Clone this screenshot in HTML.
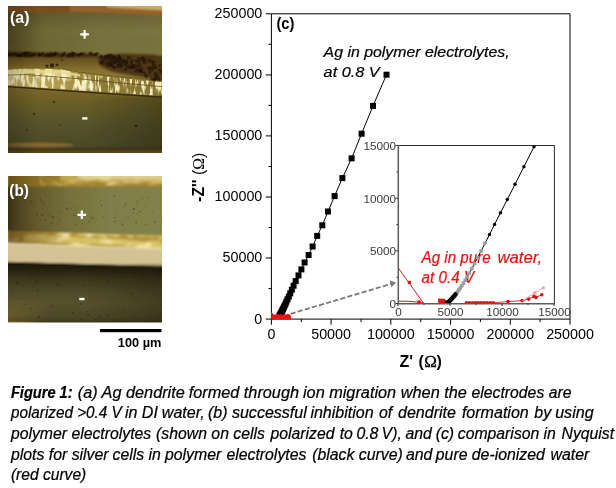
<!DOCTYPE html>
<html><head><meta charset="utf-8"><title>Figure 1</title>
<style>
html,body{margin:0;padding:0;background:#fff;}
body{width:616px;height:488px;overflow:hidden;}
svg{display:block;}
text{font-family:"Liberation Sans",sans-serif;}
.tk{font-size:14.3px;fill:#000;}
.itk{font-size:11.7px;fill:#3a3a3a;}
.cap{font-size:16px;font-style:italic;fill:#000;stroke:#000;stroke-width:0.22px;}
</style></head><body>
<svg width="616" height="488" viewBox="0 0 616 488">
<defs>
<clipPath id="ca"><rect x="8" y="6" width="154" height="147"/></clipPath>
<clipPath id="cb"><rect x="8" y="176" width="154" height="146.4"/></clipPath>
<clipPath id="ci"><rect x="398" y="145.5" width="156" height="158"/></clipPath>
<linearGradient id="ga1" x1="0" x2="1" y1="0" y2="0"><stop offset="0" stop-color="#584c22"/><stop offset="0.25" stop-color="#6e6836"/><stop offset="0.6" stop-color="#77733f"/><stop offset="1" stop-color="#7a7642"/></linearGradient>
<linearGradient id="ga1v" x1="0" x2="0" y1="0" y2="1"><stop offset="0.15" stop-color="#3a3010" stop-opacity="0.3"/><stop offset="0.5" stop-color="#3a3010" stop-opacity="0"/><stop offset="1" stop-color="#a08a40" stop-opacity="0.25"/></linearGradient>
<linearGradient id="gtan" gradientUnits="userSpaceOnUse" x1="0" x2="0" y1="56" y2="72"><stop offset="0" stop-color="#5e4a1e"/><stop offset="0.5" stop-color="#746026"/><stop offset="1" stop-color="#8c7632"/></linearGradient>
<linearGradient id="gband" gradientUnits="userSpaceOnUse" x1="8" x2="162" y1="0" y2="0"><stop offset="0" stop-color="#c4b060"/><stop offset="0.35" stop-color="#b09a4c"/><stop offset="0.6" stop-color="#8e7c38"/><stop offset="1" stop-color="#86742f"/></linearGradient>
<linearGradient id="ga2" x1="0" x2="0" y1="0" y2="1"><stop offset="0" stop-color="#826c2a"/><stop offset="0.25" stop-color="#6a5e28"/><stop offset="0.5" stop-color="#58542a"/><stop offset="0.8" stop-color="#4c4a28"/><stop offset="1" stop-color="#40381c"/></linearGradient>
<linearGradient id="gb1" x1="0" x2="1" y1="0" y2="0"><stop offset="0" stop-color="#2e2810"/><stop offset="0.07" stop-color="#483e1e"/><stop offset="0.2" stop-color="#645a2c"/><stop offset="0.4" stop-color="#76713c"/><stop offset="0.65" stop-color="#807e48"/><stop offset="1" stop-color="#84824c"/></linearGradient>
<linearGradient id="gb2" x1="0" x2="0" y1="0" y2="1"><stop offset="0" stop-color="#1a1608"/><stop offset="0.1" stop-color="#241f0d"/><stop offset="0.25" stop-color="#3c361c"/><stop offset="0.45" stop-color="#504a2a"/><stop offset="0.6" stop-color="#58522e"/><stop offset="0.8" stop-color="#4c4727"/><stop offset="0.93" stop-color="#3a341c"/><stop offset="1" stop-color="#201c0b"/></linearGradient>
<linearGradient id="gbl" x1="0" x2="1" y1="0" y2="0"><stop offset="0" stop-color="#000" stop-opacity="0.45"/><stop offset="0.2" stop-color="#000" stop-opacity="0"/></linearGradient>
<linearGradient id="gdr" x1="0" x2="1" y1="0" y2="0"><stop offset="0.5" stop-color="#141004" stop-opacity="0"/><stop offset="1" stop-color="#141004" stop-opacity="0.32"/></linearGradient>
<radialGradient id="gglow"><stop offset="0" stop-color="#8a7838" stop-opacity="0.4"/><stop offset="1" stop-color="#9a8030" stop-opacity="0"/></radialGradient>
<linearGradient id="gleft" x1="0" x2="1" y1="0" y2="0"><stop offset="0" stop-color="#4a3410" stop-opacity="0.7"/><stop offset="0.16" stop-color="#5a4012" stop-opacity="0.4"/><stop offset="0.4" stop-color="#5a4012" stop-opacity="0"/></linearGradient>
<filter id="mot" x="0" y="0" width="100%" height="100%"><feTurbulence type="fractalNoise" baseFrequency="0.07 0.16" numOctaves="2" seed="5" result="n"/><feColorMatrix in="n" type="matrix" values="0 0 0 0 0.9  0 0 0 0 0.78  0 0 0 0 0.38  3.4 0 0 0 -1.55"/><feComposite in2="SourceGraphic" operator="in"/><feGaussianBlur stdDeviation="0.6"/></filter>
<filter id="dend2" x="0" y="0" width="100%" height="100%"><feTurbulence type="fractalNoise" baseFrequency="0.3 0.075" numOctaves="2" seed="11" result="n"/><feColorMatrix in="n" type="matrix" values="0 0 0 0 0.92  0 0 0 0 0.84  0 0 0 0 0.5  6 0 0 0 -2.95"/><feComposite in2="SourceGraphic" operator="in"/></filter>
<filter id="dend" x="0" y="0" width="100%" height="100%"><feTurbulence type="fractalNoise" baseFrequency="0.24 0.075" numOctaves="2" seed="7" result="n"/><feColorMatrix in="n" type="matrix" values="0 0 0 0 0.94  0 0 0 0 0.87  0 0 0 0 0.56  5.2 0 0 0 -2.2"/><feComposite in2="SourceGraphic" operator="in"/></filter>
<filter id="bl0" x="-5%" y="-5%" width="110%" height="110%"><feGaussianBlur stdDeviation="0.45"/></filter>
<filter id="bl1" x="-5%" y="-5%" width="110%" height="110%"><feGaussianBlur stdDeviation="0.8"/></filter>
<filter id="bl2" x="-5%" y="-5%" width="110%" height="110%"><feGaussianBlur stdDeviation="1.6"/></filter>
</defs>
<rect width="616" height="488" fill="#fff"/>

<g clip-path="url(#ca)"><g filter="url(#bl1)">
<rect x="4" y="2" width="162" height="155" fill="url(#ga1)"/>
<rect x="4" y="2" width="162" height="60" fill="url(#ga1v)"/>
<rect x="4" y="2" width="162" height="10" fill="#7c4e1a"/>
<polygon points="70,2 166,2 166,16 120,13 70,11.5" fill="#96622a"/>
<polygon points="107,2 166,2 166,10.5 130,8.6 107,7" fill="#c6ae66"/>
<polygon points="4,54 100,55 166,60 166,84 110,78 80,74 25,68 4,70" fill="url(#gtan)"/>
<polygon points="4,51.5 40,52 95,53.5 100,57 60,57.5 4,56.5" fill="#3e2c14"/>
<polygon points="97,58 108,54 125,53.5 150,54 166,56 166,80 140,77 112,72 100,66" fill="#4e3618"/>
<polygon points="4,84 80,90 166,96 166,160 4,160" fill="url(#ga2)"/>
<rect x="4" y="96" width="162" height="64" fill="url(#gdr)"/>
<ellipse cx="40" cy="145" rx="34" ry="2.2" fill="#b0803a" opacity="0.6"/>
<rect x="4" y="148.5" width="162" height="1.6" fill="#2a200c" opacity="0.7"/>
<rect x="4" y="150" width="162" height="5" fill="#5c4818" opacity="0.8"/>
<polygon points="4,69.5 25,68.3 60,68.8 80,73 110,76.5 166,81.5 166,96.5 110,93 80,91 4,85.5" fill="url(#gband)"/>
</g>
<polygon filter="url(#dend)" points="8,70 25,68.8 60,69.3 80,73.5 95,75.3 95,91.5 80,90.5 8,85" fill="#fff"/>
<polygon filter="url(#dend2)" points="95,75.3 110,77 162,82 162,96 110,92.5 95,91.5" fill="#fff"/>
<g filter="url(#bl0)">
<polygon points="8,70.5 25,69.5 60,70 80,74.5 80,76.5 60,73.6 25,73.2 8,74.2" fill="#e8da92" opacity="0.85"/>
<polyline points="4,75.3 25,74.5 80,78.8 110,82 166,87" fill="none" stroke="#5a4618" stroke-width="1" opacity="0.7"/>
<polyline points="4,86.3 80,91.8 110,93.8 166,97.3" fill="none" stroke="#3a2c10" stroke-width="1.5"/>
<polyline points="4,68.8 25,67.6 60,68.1 80,72.3 110,75.8 166,80.8" fill="none" stroke="#4a3814" stroke-width="0.9" opacity="0.45"/>
<circle cx="114.8" cy="62.4" r="1.5" fill="#22140a" opacity="0.6"/>
<circle cx="137.4" cy="66.5" r="1.0" fill="#22140a" opacity="0.6"/>
<circle cx="100.8" cy="63.4" r="1.3" fill="#22140a" opacity="0.6"/>
<circle cx="114.5" cy="67.7" r="1.6" fill="#22140a" opacity="0.6"/>
<circle cx="151.9" cy="69.4" r="1.9" fill="#22140a" opacity="0.6"/>
<circle cx="109.3" cy="62.8" r="2.2" fill="#22140a" opacity="0.6"/>
<circle cx="132.4" cy="67.6" r="1.9" fill="#22140a" opacity="0.6"/>
<circle cx="104.0" cy="63.2" r="1.8" fill="#22140a" opacity="0.6"/>
<circle cx="118.7" cy="56.4" r="2.2" fill="#22140a" opacity="0.6"/>
<circle cx="129.3" cy="66.8" r="2.2" fill="#22140a" opacity="0.6"/>
<circle cx="144.3" cy="72.7" r="1.5" fill="#22140a" opacity="0.6"/>
<circle cx="149.7" cy="68.6" r="2.3" fill="#22140a" opacity="0.6"/>
<circle cx="154.5" cy="62.0" r="1.1" fill="#22140a" opacity="0.6"/>
<circle cx="113.5" cy="67.1" r="1.6" fill="#22140a" opacity="0.6"/>
<circle cx="138.9" cy="61.1" r="1.7" fill="#22140a" opacity="0.6"/>
<circle cx="123.9" cy="60.8" r="1.8" fill="#22140a" opacity="0.6"/>
<circle cx="136.2" cy="70.9" r="1.9" fill="#22140a" opacity="0.6"/>
<circle cx="157.6" cy="78.0" r="2.4" fill="#22140a" opacity="0.6"/>
<circle cx="141.6" cy="58.9" r="2.2" fill="#22140a" opacity="0.6"/>
<circle cx="159.8" cy="79.5" r="1.8" fill="#22140a" opacity="0.6"/>
<circle cx="144.3" cy="59.8" r="2.1" fill="#22140a" opacity="0.6"/>
<circle cx="135.6" cy="60.6" r="1.0" fill="#22140a" opacity="0.6"/>
<circle cx="152.9" cy="79.8" r="1.0" fill="#22140a" opacity="0.6"/>
<circle cx="149.6" cy="67.9" r="1.1" fill="#22140a" opacity="0.6"/>
<circle cx="118.2" cy="65.7" r="2.2" fill="#22140a" opacity="0.6"/>
<circle cx="102.7" cy="61.7" r="1.0" fill="#22140a" opacity="0.6"/>
<circle cx="144.5" cy="62.0" r="2.2" fill="#22140a" opacity="0.6"/>
<circle cx="160.8" cy="71.0" r="2.4" fill="#22140a" opacity="0.6"/>
<circle cx="119.2" cy="57.0" r="1.8" fill="#22140a" opacity="0.6"/>
<circle cx="101.9" cy="57.8" r="1.5" fill="#22140a" opacity="0.6"/>
<circle cx="137.8" cy="58.6" r="1.0" fill="#22140a" opacity="0.6"/>
<circle cx="153.8" cy="66.4" r="2.3" fill="#22140a" opacity="0.6"/>
<circle cx="155.6" cy="67.8" r="1.6" fill="#22140a" opacity="0.6"/>
<circle cx="132.2" cy="66.0" r="1.8" fill="#22140a" opacity="0.6"/>
<circle cx="134.7" cy="66.0" r="2.3" fill="#22140a" opacity="0.6"/>
<circle cx="131.4" cy="62.6" r="2.0" fill="#22140a" opacity="0.6"/>
<circle cx="114.7" cy="59.6" r="2.4" fill="#22140a" opacity="0.6"/>
<circle cx="132.3" cy="64.6" r="0.9" fill="#22140a" opacity="0.6"/>
<circle cx="125.7" cy="64.2" r="0.9" fill="#22140a" opacity="0.6"/>
<circle cx="138.2" cy="66.7" r="1.0" fill="#22140a" opacity="0.6"/>
<circle cx="138.9" cy="63.9" r="1.9" fill="#22140a" opacity="0.6"/>
<circle cx="121.9" cy="65.4" r="2.0" fill="#22140a" opacity="0.6"/>
<circle cx="101.4" cy="56.5" r="1.9" fill="#22140a" opacity="0.6"/>
<circle cx="159.7" cy="65.4" r="1.6" fill="#22140a" opacity="0.6"/>
<circle cx="136.7" cy="61.3" r="1.4" fill="#22140a" opacity="0.6"/>
<circle cx="119.4" cy="60.7" r="1.8" fill="#22140a" opacity="0.6"/>
<circle cx="118.6" cy="60.8" r="2.1" fill="#22140a" opacity="0.6"/>
<circle cx="101.7" cy="61.1" r="2.0" fill="#22140a" opacity="0.6"/>
<circle cx="119.2" cy="58.8" r="2.1" fill="#22140a" opacity="0.6"/>
<circle cx="114.8" cy="58.2" r="1.6" fill="#22140a" opacity="0.6"/>
<circle cx="143.3" cy="57.8" r="1.4" fill="#22140a" opacity="0.6"/>
<circle cx="120.7" cy="66.9" r="1.6" fill="#22140a" opacity="0.6"/>
<circle cx="153.0" cy="63.4" r="1.4" fill="#22140a" opacity="0.6"/>
<circle cx="140.3" cy="71.3" r="1.6" fill="#22140a" opacity="0.6"/>
<circle cx="114.0" cy="57.4" r="1.7" fill="#22140a" opacity="0.6"/>
<circle cx="111.8" cy="65.0" r="2.2" fill="#22140a" opacity="0.6"/>
<circle cx="111.4" cy="59.1" r="2.1" fill="#22140a" opacity="0.6"/>
<circle cx="139.8" cy="69.9" r="1.4" fill="#22140a" opacity="0.6"/>
<circle cx="108.0" cy="59.0" r="2.1" fill="#22140a" opacity="0.6"/>
<circle cx="116.8" cy="60.2" r="1.5" fill="#22140a" opacity="0.6"/>
<circle cx="126.0" cy="61.8" r="2.3" fill="#22140a" opacity="0.6"/>
<circle cx="109.7" cy="56.1" r="2.3" fill="#22140a" opacity="0.6"/>
<circle cx="154.6" cy="80.1" r="1.6" fill="#22140a" opacity="0.6"/>
<circle cx="158.9" cy="79.8" r="1.2" fill="#22140a" opacity="0.6"/>
<circle cx="146.2" cy="75.6" r="1.9" fill="#22140a" opacity="0.6"/>
<circle cx="132.2" cy="60.5" r="1.4" fill="#22140a" opacity="0.6"/>
<circle cx="114.1" cy="56.8" r="1.8" fill="#22140a" opacity="0.6"/>
<circle cx="117.8" cy="66.1" r="1.0" fill="#22140a" opacity="0.6"/>
<circle cx="156.0" cy="74.4" r="2.3" fill="#22140a" opacity="0.6"/>
<circle cx="155.6" cy="78.6" r="1.8" fill="#22140a" opacity="0.6"/>
<circle cx="100.8" cy="62.6" r="1.2" fill="#22140a" opacity="0.6"/>
<circle cx="118.6" cy="64.4" r="1.7" fill="#22140a" opacity="0.6"/>
<circle cx="125.7" cy="69.3" r="1.8" fill="#22140a" opacity="0.6"/>
<circle cx="121.2" cy="59.3" r="2.2" fill="#22140a" opacity="0.6"/>
<circle cx="129.6" cy="67.7" r="1.4" fill="#22140a" opacity="0.6"/>
<circle cx="112.2" cy="62.0" r="2.1" fill="#22140a" opacity="0.6"/>
<circle cx="110.6" cy="64.7" r="2.3" fill="#22140a" opacity="0.6"/>
<circle cx="150.0" cy="76.0" r="0.9" fill="#22140a" opacity="0.6"/>
<circle cx="139.0" cy="70.7" r="1.0" fill="#22140a" opacity="0.6"/>
<circle cx="116.8" cy="59.3" r="1.7" fill="#22140a" opacity="0.6"/>
<circle cx="126.2" cy="62.8" r="2.1" fill="#22140a" opacity="0.6"/>
<circle cx="100.1" cy="56.5" r="1.1" fill="#22140a" opacity="0.6"/>
<circle cx="107.7" cy="56.7" r="2.4" fill="#22140a" opacity="0.6"/>
<circle cx="153.0" cy="61.7" r="1.7" fill="#22140a" opacity="0.6"/>
<circle cx="119.6" cy="60.0" r="1.4" fill="#22140a" opacity="0.6"/>
<circle cx="140.1" cy="66.1" r="1.4" fill="#22140a" opacity="0.6"/>
<circle cx="111.8" cy="59.7" r="1.1" fill="#22140a" opacity="0.6"/>
<circle cx="134.4" cy="67.5" r="1.5" fill="#22140a" opacity="0.6"/>
<circle cx="105.0" cy="57.7" r="1.5" fill="#22140a" opacity="0.6"/>
<circle cx="137.5" cy="69.1" r="1.5" fill="#22140a" opacity="0.6"/>
<circle cx="149.7" cy="72.1" r="1.5" fill="#22140a" opacity="0.6"/>
<circle cx="123.1" cy="62.8" r="2.0" fill="#22140a" opacity="0.6"/>
<circle cx="126.1" cy="65.9" r="1.6" fill="#22140a" opacity="0.6"/>
<circle cx="115.2" cy="62.4" r="1.9" fill="#22140a" opacity="0.6"/>
<circle cx="104.4" cy="60.1" r="1.5" fill="#22140a" opacity="0.6"/>
<circle cx="154.5" cy="79.1" r="1.5" fill="#22140a" opacity="0.6"/>
<circle cx="155.7" cy="76.3" r="1.3" fill="#22140a" opacity="0.6"/>
<circle cx="128.8" cy="57.8" r="2.1" fill="#22140a" opacity="0.6"/>
<circle cx="141.1" cy="71.5" r="2.1" fill="#22140a" opacity="0.6"/>
<circle cx="141.4" cy="68.9" r="1.7" fill="#22140a" opacity="0.6"/>
<circle cx="106.4" cy="61.9" r="0.9" fill="#22140a" opacity="0.6"/>
<circle cx="108.9" cy="64.2" r="1.0" fill="#22140a" opacity="0.6"/>
<circle cx="105.7" cy="57.0" r="2.2" fill="#22140a" opacity="0.6"/>
<circle cx="111.1" cy="56.3" r="2.2" fill="#22140a" opacity="0.6"/>
<circle cx="107.5" cy="64.7" r="1.9" fill="#22140a" opacity="0.6"/>
<circle cx="151.8" cy="78.9" r="1.8" fill="#22140a" opacity="0.6"/>
<circle cx="149.5" cy="60.7" r="2.1" fill="#22140a" opacity="0.6"/>
<circle cx="131.7" cy="67.1" r="1.1" fill="#22140a" opacity="0.6"/>
<circle cx="146.4" cy="77.4" r="1.0" fill="#22140a" opacity="0.6"/>
<circle cx="120.1" cy="63.3" r="2.1" fill="#22140a" opacity="0.6"/>
<ellipse cx="29.3" cy="53.5" rx="2.1" ry="1.9" fill="#2a1a0a" opacity="0.55"/>
<ellipse cx="74.3" cy="54.2" rx="2.4" ry="1.6" fill="#2a1a0a" opacity="0.55"/>
<ellipse cx="38.8" cy="54.3" rx="1.7" ry="1.7" fill="#2a1a0a" opacity="0.55"/>
<ellipse cx="93.6" cy="54.2" rx="3.4" ry="1.2" fill="#2a1a0a" opacity="0.55"/>
<ellipse cx="68.8" cy="55.3" rx="3.2" ry="1.7" fill="#2a1a0a" opacity="0.55"/>
<ellipse cx="50.6" cy="54.9" rx="3.7" ry="1.2" fill="#2a1a0a" opacity="0.55"/>
<ellipse cx="16.4" cy="55.2" rx="3.8" ry="1.7" fill="#2a1a0a" opacity="0.55"/>
<ellipse cx="47.0" cy="55.2" rx="2.0" ry="1.4" fill="#2a1a0a" opacity="0.55"/>
<ellipse cx="25.5" cy="54.8" rx="2.3" ry="1.3" fill="#2a1a0a" opacity="0.55"/>
<ellipse cx="68.8" cy="55.9" rx="2.2" ry="2.0" fill="#2a1a0a" opacity="0.55"/>
<ellipse cx="44.4" cy="55.6" rx="3.0" ry="1.4" fill="#2a1a0a" opacity="0.55"/>
<ellipse cx="27.1" cy="53.1" rx="2.7" ry="1.5" fill="#2a1a0a" opacity="0.55"/>
<ellipse cx="23.2" cy="54.1" rx="2.3" ry="2.1" fill="#2a1a0a" opacity="0.55"/>
<ellipse cx="20.6" cy="56.0" rx="2.7" ry="1.8" fill="#2a1a0a" opacity="0.55"/>
<ellipse cx="49.2" cy="55.5" rx="3.6" ry="1.8" fill="#2a1a0a" opacity="0.55"/>
<ellipse cx="50.4" cy="55.2" rx="3.6" ry="1.6" fill="#2a1a0a" opacity="0.55"/>
<ellipse cx="72.6" cy="55.9" rx="2.7" ry="1.3" fill="#2a1a0a" opacity="0.55"/>
<ellipse cx="28.7" cy="55.2" rx="3.2" ry="2.3" fill="#2a1a0a" opacity="0.55"/>
<ellipse cx="83.1" cy="53.7" rx="2.0" ry="1.4" fill="#2a1a0a" opacity="0.55"/>
<ellipse cx="24.5" cy="55.1" rx="3.6" ry="2.3" fill="#2a1a0a" opacity="0.55"/>
<ellipse cx="30.4" cy="55.6" rx="2.3" ry="1.6" fill="#2a1a0a" opacity="0.55"/>
<ellipse cx="72.1" cy="53.3" rx="1.7" ry="2.2" fill="#2a1a0a" opacity="0.55"/>
<ellipse cx="33.7" cy="54.1" rx="3.0" ry="1.9" fill="#2a1a0a" opacity="0.55"/>
<ellipse cx="8.6" cy="54.0" rx="2.6" ry="1.7" fill="#2a1a0a" opacity="0.55"/>
<ellipse cx="26.5" cy="54.8" rx="3.9" ry="1.5" fill="#2a1a0a" opacity="0.55"/>
<ellipse cx="55.9" cy="53.4" rx="2.2" ry="1.9" fill="#2a1a0a" opacity="0.55"/>
<circle cx="18.7" cy="55.5" r="1.4" fill="#1e1206" opacity="0.7"/>
<circle cx="17.2" cy="55.7" r="0.9" fill="#1e1206" opacity="0.7"/>
<circle cx="81.4" cy="55.0" r="0.9" fill="#1e1206" opacity="0.7"/>
<circle cx="72.2" cy="54.7" r="1.3" fill="#1e1206" opacity="0.7"/>
<circle cx="33.2" cy="55.0" r="1.5" fill="#1e1206" opacity="0.7"/>
<circle cx="71.9" cy="54.2" r="0.7" fill="#1e1206" opacity="0.7"/>
<circle cx="54.9" cy="53.6" r="1.2" fill="#1e1206" opacity="0.7"/>
<circle cx="72.5" cy="54.3" r="0.8" fill="#1e1206" opacity="0.7"/>
<circle cx="69.3" cy="54.6" r="0.8" fill="#1e1206" opacity="0.7"/>
<circle cx="92.5" cy="54.7" r="0.7" fill="#1e1206" opacity="0.7"/>
<circle cx="96.5" cy="52.8" r="0.9" fill="#1e1206" opacity="0.7"/>
<circle cx="76.4" cy="54.5" r="1.1" fill="#1e1206" opacity="0.7"/>
<circle cx="69.5" cy="53.9" r="0.9" fill="#1e1206" opacity="0.7"/>
<circle cx="24.8" cy="52.5" r="1.2" fill="#1e1206" opacity="0.7"/>
<circle cx="79.7" cy="54.3" r="1.3" fill="#1e1206" opacity="0.7"/>
<circle cx="42.1" cy="53.3" r="0.9" fill="#1e1206" opacity="0.7"/>
<circle cx="90.9" cy="52.5" r="1.1" fill="#1e1206" opacity="0.7"/>
<circle cx="31.5" cy="55.1" r="0.9" fill="#1e1206" opacity="0.7"/>
<circle cx="39.6" cy="53.8" r="1.1" fill="#1e1206" opacity="0.7"/>
<circle cx="81.3" cy="53.6" r="1.4" fill="#1e1206" opacity="0.7"/>
<circle cx="18.7" cy="53.3" r="0.7" fill="#1e1206" opacity="0.7"/>
<circle cx="18.7" cy="55.1" r="1.3" fill="#1e1206" opacity="0.7"/>
<circle cx="25.6" cy="53.0" r="1.0" fill="#1e1206" opacity="0.7"/>
<circle cx="78.6" cy="55.2" r="1.3" fill="#1e1206" opacity="0.7"/>
<circle cx="64.2" cy="52.8" r="1.0" fill="#1e1206" opacity="0.7"/>
<circle cx="26.4" cy="54.2" r="1.1" fill="#1e1206" opacity="0.7"/>
<circle cx="27.2" cy="53.2" r="1.3" fill="#1e1206" opacity="0.7"/>
<circle cx="10.9" cy="55.2" r="1.4" fill="#1e1206" opacity="0.7"/>
<circle cx="98.2" cy="53.7" r="1.1" fill="#1e1206" opacity="0.7"/>
<circle cx="63.4" cy="54.6" r="1.5" fill="#1e1206" opacity="0.7"/>
<circle cx="73.2" cy="53.4" r="1.4" fill="#1e1206" opacity="0.7"/>
<circle cx="54.0" cy="54.5" r="1.3" fill="#1e1206" opacity="0.7"/>
<circle cx="8.2" cy="55.1" r="1.2" fill="#1e1206" opacity="0.7"/>
<circle cx="54.7" cy="54.2" r="1.0" fill="#1e1206" opacity="0.7"/>
<circle cx="26.4" cy="54.2" r="0.6" fill="#1e1206" opacity="0.7"/>
<circle cx="55.5" cy="54.6" r="1.0" fill="#1e1206" opacity="0.7"/>
<circle cx="61.8" cy="55.8" r="1.4" fill="#1e1206" opacity="0.7"/>
<circle cx="20.9" cy="55.2" r="1.2" fill="#1e1206" opacity="0.7"/>
<circle cx="12.8" cy="53.6" r="0.8" fill="#1e1206" opacity="0.7"/>
<circle cx="15.4" cy="54.2" r="1.4" fill="#1e1206" opacity="0.7"/>
<circle cx="38.7" cy="55.4" r="1.2" fill="#1e1206" opacity="0.7"/>
<circle cx="20.8" cy="55.4" r="1.1" fill="#1e1206" opacity="0.7"/>
<circle cx="96.1" cy="54.9" r="1.3" fill="#1e1206" opacity="0.7"/>
<circle cx="40.6" cy="55.2" r="1.4" fill="#1e1206" opacity="0.7"/>
<circle cx="89.8" cy="53.9" r="1.3" fill="#1e1206" opacity="0.7"/>
<circle cx="54.1" cy="52.7" r="0.6" fill="#1e1206" opacity="0.7"/>
<circle cx="15.4" cy="53.0" r="0.7" fill="#1e1206" opacity="0.7"/>
<circle cx="55.2" cy="54.8" r="1.1" fill="#1e1206" opacity="0.7"/>
<circle cx="48.1" cy="54.6" r="0.9" fill="#1e1206" opacity="0.7"/>
<circle cx="52.1" cy="55.0" r="1.0" fill="#1e1206" opacity="0.7"/>
<circle cx="25.2" cy="55.5" r="1.2" fill="#1e1206" opacity="0.7"/>
<circle cx="42.9" cy="53.6" r="1.1" fill="#1e1206" opacity="0.7"/>
<circle cx="64.7" cy="53.1" r="0.6" fill="#1e1206" opacity="0.7"/>
<circle cx="27.9" cy="55.1" r="0.7" fill="#1e1206" opacity="0.7"/>
<circle cx="51.7" cy="53.0" r="0.8" fill="#1e1206" opacity="0.7"/>
<circle cx="24.2" cy="53.8" r="0.8" fill="#1e1206" opacity="0.7"/>
<circle cx="10.6" cy="52.7" r="0.8" fill="#1e1206" opacity="0.7"/>
<circle cx="54.6" cy="52.5" r="0.6" fill="#1e1206" opacity="0.7"/>
<circle cx="50.6" cy="53.8" r="1.2" fill="#1e1206" opacity="0.7"/>
<circle cx="12.9" cy="53.8" r="1.0" fill="#1e1206" opacity="0.7"/>
<circle cx="52" cy="65.5" r="2.2" fill="#22160a" opacity="0.75"/>
<circle cx="47" cy="66" r="1.6" fill="#22160a" opacity="0.75"/>
<circle cx="57" cy="64.8" r="1.4" fill="#22160a" opacity="0.75"/>
<circle cx="62" cy="60" r="1" fill="#22160a" opacity="0.75"/>
<circle cx="54" cy="102" r="1.1" fill="#22160a" opacity="0.75"/>
<circle cx="34" cy="114" r="1" fill="#22160a" opacity="0.75"/>
<circle cx="136" cy="126" r="1.3" fill="#22160a" opacity="0.75"/>
<circle cx="112" cy="60" r="1.2" fill="#22160a" opacity="0.75"/>
<circle cx="27" cy="130" r="0.8" fill="#22160a" opacity="0.75"/>
<circle cx="60" cy="125" r="0.8" fill="#22160a" opacity="0.75"/>
</g>
<rect x="8" y="6" width="154" height="147" fill="url(#gbl)" opacity="0.45"/>
</g>
<text x="10" y="22.5" font-size="16" font-weight="bold" fill="#fff" textLength="19.5" lengthAdjust="spacingAndGlyphs">(a)</text>
<path d="M80.3 34.4h8.6M84.6 30.1v8.6" stroke="#fff" stroke-width="2.2" fill="none"/>
<rect x="82.2" y="117.2" width="5.2" height="2.4" fill="#fff"/>
<g clip-path="url(#cb)"><g filter="url(#bl1)">
<rect x="4" y="172" width="162" height="155" fill="url(#gb1)"/>
<rect x="4" y="172" width="162" height="14.5" fill="#a4842e"/>
<polygon points="60,172 166,172 166,183 60,181" fill="#c4a850"/>
<polygon points="78,172 166,172 166,180 78,178.5" fill="#dccb8c"/>
<rect x="8" y="172" width="154" height="14.5" fill="url(#gleft)"/>
<polygon points="4,230.6 166,235.2 166,252 4,246" fill="#b4963a"/>
<polygon points="24,235 120,239 166,244 166,249.5 120,245.5 24,241.5" fill="#dccb6e" opacity="0.8"/>
<polygon filter="url(#mot)" points="8,231.5 162,236 162,249 8,243.5" fill="#fff"/>
<polygon filter="url(#mot)" points="40,176 162,176 162,185.5 40,185.5" fill="#fff" opacity="0.7"/>
<polygon points="8,229.6 162,234 162,250 8,246" fill="url(#gleft)"/>
<polygon points="4,243.3 166,249 166,267 4,262.3" fill="#d4c294"/>
<polyline points="4,243.4 166,249.1" stroke="#efe2b4" stroke-width="1" fill="none"/>
<polygon points="4,262 166,266.4 166,330 4,330" fill="url(#gb2)"/>
<rect x="4" y="264" width="162" height="66" fill="url(#gdr)"/>
<ellipse cx="6" cy="314" rx="46" ry="16" fill="url(#gglow)"/>
<polyline points="4,262.6 166,267" stroke="#141006" stroke-width="1.6" fill="none"/>
<ellipse cx="12" cy="324.3" rx="22" ry="1.8" fill="#c8a238" opacity="0.85"/>
</g>
<circle cx="33.5" cy="224.0" r="0.5" fill="#2a2810" opacity="0.45"/>
<circle cx="42.4" cy="209.2" r="0.5" fill="#2a2810" opacity="0.45"/>
<circle cx="112.2" cy="205.4" r="0.5" fill="#2a2810" opacity="0.45"/>
<circle cx="36.8" cy="216.8" r="0.5" fill="#2a2810" opacity="0.45"/>
<circle cx="134.0" cy="209.0" r="0.9" fill="#2a2810" opacity="0.45"/>
<circle cx="69.7" cy="202.5" r="0.5" fill="#2a2810" opacity="0.45"/>
<circle cx="137.5" cy="213.9" r="0.6" fill="#2a2810" opacity="0.45"/>
<circle cx="42.4" cy="215.5" r="0.9" fill="#2a2810" opacity="0.45"/>
<circle cx="108.2" cy="195.1" r="0.4" fill="#2a2810" opacity="0.45"/>
<circle cx="42.0" cy="200.1" r="0.4" fill="#2a2810" opacity="0.45"/>
<circle cx="37.1" cy="214.6" r="0.9" fill="#2a2810" opacity="0.45"/>
<circle cx="56.5" cy="224.2" r="0.6" fill="#2a2810" opacity="0.45"/>
<circle cx="136.1" cy="222.5" r="0.9" fill="#2a2810" opacity="0.45"/>
<circle cx="34.5" cy="204.1" r="0.7" fill="#2a2810" opacity="0.45"/>
<circle cx="154.9" cy="197.6" r="0.5" fill="#2a2810" opacity="0.45"/>
<circle cx="142.2" cy="198.4" r="0.6" fill="#2a2810" opacity="0.45"/>
<circle cx="74.1" cy="215.4" r="0.9" fill="#2a2810" opacity="0.45"/>
<circle cx="53.1" cy="217.2" r="0.8" fill="#2a2810" opacity="0.45"/>
<circle cx="140.3" cy="211.6" r="0.9" fill="#2a2810" opacity="0.45"/>
<circle cx="77.9" cy="207.4" r="0.5" fill="#2a2810" opacity="0.45"/>
<circle cx="132.9" cy="209.4" r="0.5" fill="#2a2810" opacity="0.45"/>
<circle cx="52.4" cy="216.6" r="0.7" fill="#2a2810" opacity="0.45"/>
<circle cx="123.8" cy="206.6" r="0.6" fill="#2a2810" opacity="0.45"/>
<circle cx="50.3" cy="216.3" r="0.4" fill="#2a2810" opacity="0.45"/>
<circle cx="91.6" cy="217.8" r="0.7" fill="#2a2810" opacity="0.45"/>
<circle cx="42.8" cy="202.1" r="0.8" fill="#2a2810" opacity="0.45"/>
<circle cx="114.8" cy="221.4" r="0.8" fill="#2a2810" opacity="0.45"/>
<circle cx="89.4" cy="221.9" r="0.8" fill="#2a2810" opacity="0.45"/>
<circle cx="74.0" cy="206.1" r="0.4" fill="#2a2810" opacity="0.45"/>
<circle cx="82.7" cy="223.7" r="0.5" fill="#2a2810" opacity="0.45"/>
<circle cx="105.1" cy="198.3" r="0.4" fill="#2a2810" opacity="0.45"/>
<circle cx="115.7" cy="202.2" r="0.4" fill="#2a2810" opacity="0.45"/>
<circle cx="50.2" cy="214.3" r="0.7" fill="#2a2810" opacity="0.45"/>
<circle cx="31.5" cy="201.9" r="0.9" fill="#2a2810" opacity="0.45"/>
<circle cx="59.1" cy="211.9" r="0.6" fill="#2a2810" opacity="0.45"/>
<circle cx="133.1" cy="213.1" r="0.8" fill="#2a2810" opacity="0.45"/>
<circle cx="100.6" cy="200.6" r="0.5" fill="#2a2810" opacity="0.45"/>
<circle cx="40.4" cy="219.8" r="0.5" fill="#2a2810" opacity="0.45"/>
<circle cx="33.2" cy="224.0" r="0.5" fill="#2a2810" opacity="0.45"/>
<circle cx="147.9" cy="197.6" r="0.6" fill="#2a2810" opacity="0.45"/>
<circle cx="59.4" cy="219.9" r="0.7" fill="#2a2810" opacity="0.45"/>
<circle cx="114.7" cy="217.8" r="0.8" fill="#2a2810" opacity="0.45"/>
<circle cx="75.7" cy="213.1" r="0.6" fill="#2a2810" opacity="0.45"/>
<circle cx="44.6" cy="220.1" r="0.7" fill="#2a2810" opacity="0.45"/>
<circle cx="137.6" cy="201.2" r="0.7" fill="#2a2810" opacity="0.45"/>
<circle cx="91.3" cy="216.8" r="0.4" fill="#2a2810" opacity="0.45"/>
<circle cx="75.7" cy="209.5" r="0.4" fill="#2a2810" opacity="0.45"/>
<circle cx="103.0" cy="217.1" r="0.6" fill="#2a2810" opacity="0.45"/>
<circle cx="115.6" cy="213.2" r="0.5" fill="#2a2810" opacity="0.45"/>
<circle cx="76.3" cy="224.9" r="0.6" fill="#2a2810" opacity="0.45"/>
<circle cx="86.9" cy="197.5" r="0.5" fill="#2a2810" opacity="0.45"/>
<circle cx="51.8" cy="222.9" r="0.8" fill="#2a2810" opacity="0.45"/>
<circle cx="145.5" cy="224.6" r="0.7" fill="#2a2810" opacity="0.45"/>
<circle cx="152.9" cy="211.1" r="0.6" fill="#2a2810" opacity="0.45"/>
<circle cx="155.1" cy="222.1" r="0.9" fill="#2a2810" opacity="0.45"/>
<circle cx="93.9" cy="218.2" r="0.6" fill="#2a2810" opacity="0.45"/>
<circle cx="161.6" cy="222.6" r="0.5" fill="#2a2810" opacity="0.45"/>
<circle cx="153.3" cy="200.5" r="0.4" fill="#2a2810" opacity="0.45"/>
<circle cx="125.4" cy="203.8" r="0.7" fill="#2a2810" opacity="0.45"/>
<circle cx="114.4" cy="196.2" r="0.8" fill="#2a2810" opacity="0.45"/>
<circle cx="66.4" cy="208.0" r="0.6" fill="#2a2810" opacity="0.45"/>
<circle cx="128.0" cy="217.4" r="0.5" fill="#2a2810" opacity="0.45"/>
<circle cx="43.6" cy="204.0" r="0.6" fill="#2a2810" opacity="0.45"/>
<circle cx="40.2" cy="199.6" r="0.8" fill="#2a2810" opacity="0.45"/>
<circle cx="122.5" cy="224.3" r="0.9" fill="#2a2810" opacity="0.45"/>
<circle cx="145.7" cy="206.2" r="0.5" fill="#2a2810" opacity="0.45"/>
<circle cx="71.2" cy="208.9" r="0.7" fill="#2a2810" opacity="0.45"/>
<circle cx="101.6" cy="205.8" r="0.8" fill="#2a2810" opacity="0.45"/>
<circle cx="67.6" cy="208.9" r="0.8" fill="#2a2810" opacity="0.45"/>
<circle cx="136.5" cy="203.9" r="0.5" fill="#2a2810" opacity="0.45"/>
<circle cx="132.6" cy="272.5" r="0.5" fill="#181406" opacity="0.45"/>
<circle cx="90.7" cy="297.7" r="0.5" fill="#181406" opacity="0.45"/>
<circle cx="17.6" cy="281.8" r="0.8" fill="#181406" opacity="0.45"/>
<circle cx="80.8" cy="319.0" r="0.8" fill="#181406" opacity="0.45"/>
<circle cx="158.8" cy="273.7" r="0.5" fill="#181406" opacity="0.45"/>
<circle cx="12.0" cy="292.8" r="0.6" fill="#181406" opacity="0.45"/>
<circle cx="17.8" cy="298.2" r="0.4" fill="#181406" opacity="0.45"/>
<circle cx="57.4" cy="283.9" r="0.8" fill="#181406" opacity="0.45"/>
<circle cx="73.6" cy="284.5" r="0.4" fill="#181406" opacity="0.45"/>
<circle cx="75.3" cy="302.1" r="0.7" fill="#181406" opacity="0.45"/>
<circle cx="148.7" cy="310.8" r="0.5" fill="#181406" opacity="0.45"/>
<circle cx="30.6" cy="308.4" r="0.8" fill="#181406" opacity="0.45"/>
<circle cx="87.3" cy="311.9" r="0.7" fill="#181406" opacity="0.45"/>
<circle cx="52.5" cy="280.1" r="0.4" fill="#181406" opacity="0.45"/>
<circle cx="107.8" cy="315.1" r="0.9" fill="#181406" opacity="0.45"/>
<circle cx="81.1" cy="303.9" r="0.9" fill="#181406" opacity="0.45"/>
<circle cx="133.7" cy="300.9" r="0.6" fill="#181406" opacity="0.45"/>
<circle cx="88.8" cy="280.2" r="0.5" fill="#181406" opacity="0.45"/>
<circle cx="113.9" cy="319.6" r="0.7" fill="#181406" opacity="0.45"/>
<circle cx="72.0" cy="288.9" r="0.6" fill="#181406" opacity="0.45"/>
<circle cx="132.0" cy="293.7" r="0.9" fill="#181406" opacity="0.45"/>
<circle cx="33.6" cy="287.1" r="0.7" fill="#181406" opacity="0.45"/>
<circle cx="72.6" cy="312.9" r="0.8" fill="#181406" opacity="0.45"/>
<circle cx="151.6" cy="301.4" r="0.4" fill="#181406" opacity="0.45"/>
<circle cx="97.3" cy="298.4" r="0.6" fill="#181406" opacity="0.45"/>
<circle cx="52.5" cy="306.1" r="0.9" fill="#181406" opacity="0.45"/>
<circle cx="25.6" cy="304.1" r="0.6" fill="#181406" opacity="0.45"/>
<circle cx="88.2" cy="315.0" r="0.9" fill="#181406" opacity="0.45"/>
<circle cx="107.8" cy="281.4" r="0.9" fill="#181406" opacity="0.45"/>
<circle cx="37.5" cy="290.4" r="0.8" fill="#181406" opacity="0.45"/>
<circle cx="58.1" cy="285.0" r="0.9" fill="#181406" opacity="0.45"/>
<circle cx="153.5" cy="287.2" r="0.6" fill="#181406" opacity="0.45"/>
<circle cx="52.9" cy="278.3" r="0.5" fill="#181406" opacity="0.45"/>
<circle cx="159.0" cy="275.8" r="0.5" fill="#181406" opacity="0.45"/>
<circle cx="40.4" cy="275.8" r="0.7" fill="#181406" opacity="0.45"/>
<circle cx="122.9" cy="312.2" r="0.7" fill="#181406" opacity="0.45"/>
<circle cx="134.3" cy="272.3" r="0.5" fill="#181406" opacity="0.45"/>
<circle cx="156.1" cy="275.3" r="0.5" fill="#181406" opacity="0.45"/>
<circle cx="83.4" cy="284.9" r="0.7" fill="#181406" opacity="0.45"/>
<circle cx="17.2" cy="283.3" r="0.9" fill="#181406" opacity="0.45"/>
<circle cx="31.9" cy="315.5" r="0.5" fill="#181406" opacity="0.45"/>
<circle cx="160.9" cy="304.4" r="0.7" fill="#181406" opacity="0.45"/>
<circle cx="31.6" cy="274.6" r="0.8" fill="#181406" opacity="0.45"/>
<circle cx="36.8" cy="281.1" r="0.8" fill="#181406" opacity="0.45"/>
<circle cx="143.0" cy="274.3" r="0.9" fill="#181406" opacity="0.45"/>
<circle cx="91.3" cy="290.4" r="0.5" fill="#181406" opacity="0.45"/>
<circle cx="69.3" cy="319.4" r="0.5" fill="#181406" opacity="0.45"/>
<circle cx="30.0" cy="279.0" r="0.5" fill="#181406" opacity="0.45"/>
<circle cx="63.6" cy="315.9" r="0.4" fill="#181406" opacity="0.45"/>
<circle cx="39.2" cy="317.1" r="0.9" fill="#181406" opacity="0.45"/>
<circle cx="158.9" cy="283.8" r="0.6" fill="#181406" opacity="0.45"/>
<circle cx="154.5" cy="295.3" r="0.8" fill="#181406" opacity="0.45"/>
<circle cx="57.6" cy="273.0" r="0.6" fill="#181406" opacity="0.45"/>
<circle cx="123.7" cy="309.5" r="0.7" fill="#181406" opacity="0.45"/>
<circle cx="80.5" cy="297.8" r="0.6" fill="#181406" opacity="0.45"/>
<circle cx="91.2" cy="312.0" r="0.5" fill="#181406" opacity="0.45"/>
<circle cx="100.3" cy="316.8" r="0.8" fill="#181406" opacity="0.45"/>
<circle cx="37.3" cy="318.2" r="0.8" fill="#181406" opacity="0.45"/>
<circle cx="35.5" cy="284.8" r="0.5" fill="#181406" opacity="0.45"/>
<circle cx="18.1" cy="319.0" r="0.6" fill="#181406" opacity="0.45"/>
</g>
<text x="9.3" y="196" font-size="16" font-weight="bold" fill="#fff" textLength="19.5" lengthAdjust="spacingAndGlyphs">(b)</text>
<path d="M77.5 214.8h8.6M81.8 210.5v8.6" stroke="#fff" stroke-width="2.2" fill="none"/>
<rect x="79.3" y="297.8" width="5.2" height="2.4" fill="#fff"/>
<rect x="100" y="329" width="61.5" height="3.2" fill="#000"/>
<text x="117.8" y="347" font-size="12.2" font-weight="bold" textLength="43.6" lengthAdjust="spacingAndGlyphs">100 µm</text>
<path d="M271.4 13.8H570V319.1H271.4Z" fill="none" stroke="#000" stroke-width="1"/>
<path d="M271.4 319.1h-5.6M271.4 319.1v5.6" stroke="#000" stroke-width="1" fill="none"/>
<text class="tk" x="262.3" y="323.5" text-anchor="end">0</text>
<text class="tk" x="271.4" y="339" text-anchor="middle">0</text>
<path d="M271.4 288.6h-3M301.3 319.1v3" stroke="#000" stroke-width="1" fill="none"/>
<path d="M271.4 258.0h-5.6M331.1 319.1v5.6" stroke="#000" stroke-width="1" fill="none"/>
<text class="tk" x="262.3" y="262.4" text-anchor="end">50000</text>
<text class="tk" x="331.1" y="339" text-anchor="middle">50000</text>
<path d="M271.4 227.5h-3M361.0 319.1v3" stroke="#000" stroke-width="1" fill="none"/>
<path d="M271.4 197.0h-5.6M390.8 319.1v5.6" stroke="#000" stroke-width="1" fill="none"/>
<text class="tk" x="262.3" y="201.4" text-anchor="end">100000</text>
<text class="tk" x="390.8" y="339" text-anchor="middle">100000</text>
<path d="M271.4 166.5h-3M420.7 319.1v3" stroke="#000" stroke-width="1" fill="none"/>
<path d="M271.4 135.9h-5.6M450.6 319.1v5.6" stroke="#000" stroke-width="1" fill="none"/>
<text class="tk" x="262.3" y="140.3" text-anchor="end">150000</text>
<text class="tk" x="450.6" y="339" text-anchor="middle">150000</text>
<path d="M271.4 105.4h-3M480.4 319.1v3" stroke="#000" stroke-width="1" fill="none"/>
<path d="M271.4 74.9h-5.6M510.3 319.1v5.6" stroke="#000" stroke-width="1" fill="none"/>
<text class="tk" x="262.3" y="79.3" text-anchor="end">200000</text>
<text class="tk" x="510.3" y="339" text-anchor="middle">200000</text>
<path d="M271.4 44.3h-3M540.1 319.1v3" stroke="#000" stroke-width="1" fill="none"/>
<path d="M271.4 13.8h-5.6M570.0 319.1v5.6" stroke="#000" stroke-width="1" fill="none"/>
<text class="tk" x="262.3" y="18.2" text-anchor="end">250000</text>
<text class="tk" x="570.0" y="339" text-anchor="middle">250000</text>
<text y="367.2" font-size="16" font-weight="bold"><tspan x="399.6">Z'</tspan><tspan x="418.4">(</tspan><tspan x="436.6">)</tspan></text>
<text x="424.2" y="367.2" font-size="16" stroke="#000" stroke-width="0.35" font-family="Liberation Serif,serif" style="font-family:'Liberation Serif',serif" textLength="12.6" lengthAdjust="spacingAndGlyphs">Ω</text>
<text transform="translate(203.8 201.8) rotate(-90)" font-size="16" textLength="49" lengthAdjust="spacingAndGlyphs"><tspan font-weight="bold">-Z''</tspan> (<tspan font-family="Liberation Serif,serif">Ω</tspan>)</text>
<text x="276.4" y="29.2" font-size="17" font-weight="bold" textLength="18" lengthAdjust="spacingAndGlyphs">(c)</text>
<polyline fill="none" stroke="#000" stroke-width="1" points="386.5,74.7 373.0,105.9 361.6,133.7 351.6,158.3 342.4,178.1 334.6,196.1 328.0,211.5 322.3,225.3 317.2,235.9 312.6,246.5 308.6,255.0 304.6,262.5 301.4,269.4 298.5,275.4 295.7,281.1 293.6,285.7 291.8,289.8 290.2,293.4 288.8,296.6 287.5,299.3 286.4,301.7 285.5,303.9 284.6,305.7 283.8,307.4 283.1,308.8 282.5,310.1 282.0,311.2 281.5,312.2 281.1,313.0 280.7,313.8 280.3,314.4 280.0,315.0 279.8,315.5 279.5,316.0"/>
<rect x="383.5" y="71.7" width="6" height="6" fill="#000"/>
<rect x="370.0" y="102.9" width="6" height="6" fill="#000"/>
<rect x="358.6" y="130.7" width="6" height="6" fill="#000"/>
<rect x="348.6" y="155.3" width="6" height="6" fill="#000"/>
<rect x="339.4" y="175.1" width="6" height="6" fill="#000"/>
<rect x="331.6" y="193.1" width="6" height="6" fill="#000"/>
<rect x="325.0" y="208.5" width="6" height="6" fill="#000"/>
<rect x="319.3" y="222.3" width="6" height="6" fill="#000"/>
<rect x="314.2" y="232.9" width="6" height="6" fill="#000"/>
<rect x="309.6" y="243.5" width="6" height="6" fill="#000"/>
<rect x="305.6" y="252.0" width="6" height="6" fill="#000"/>
<rect x="301.6" y="259.5" width="6" height="6" fill="#000"/>
<rect x="298.4" y="266.4" width="6" height="6" fill="#000"/>
<rect x="295.5" y="272.4" width="6" height="6" fill="#000"/>
<rect x="292.7" y="278.1" width="6" height="6" fill="#000"/>
<rect x="290.6" y="282.7" width="6" height="6" fill="#000"/>
<rect x="288.8" y="286.8" width="6" height="6" fill="#000"/>
<rect x="287.2" y="290.4" width="6" height="6" fill="#000"/>
<rect x="285.8" y="293.6" width="6" height="6" fill="#000"/>
<rect x="284.5" y="296.3" width="6" height="6" fill="#000"/>
<rect x="283.4" y="298.7" width="6" height="6" fill="#000"/>
<rect x="282.5" y="300.9" width="6" height="6" fill="#000"/>
<rect x="281.6" y="302.7" width="6" height="6" fill="#000"/>
<rect x="280.8" y="304.4" width="6" height="6" fill="#000"/>
<rect x="280.1" y="305.8" width="6" height="6" fill="#000"/>
<rect x="279.5" y="307.1" width="6" height="6" fill="#000"/>
<rect x="279.0" y="308.2" width="6" height="6" fill="#000"/>
<rect x="278.5" y="309.2" width="6" height="6" fill="#000"/>
<rect x="278.1" y="310.0" width="6" height="6" fill="#000"/>
<rect x="277.7" y="310.8" width="6" height="6" fill="#000"/>
<rect x="277.3" y="311.4" width="6" height="6" fill="#000"/>
<rect x="277.0" y="312.0" width="6" height="6" fill="#000"/>
<rect x="276.8" y="312.5" width="6" height="6" fill="#000"/>
<rect x="276.5" y="313.0" width="6" height="6" fill="#000"/>
<path d="M271.2 311.6L273.6 314.5H285.5Q288.5 313.2 290.4 315Q291.8 316.8 290.8 319.6H271.2Z" fill="#ea1212"/>
<path d="M290.6 313.8L390.8 284" stroke="#7a7a7a" stroke-width="1.8" stroke-dasharray="5.2 2.2" fill="none"/>
<polygon points="396,282.4 389.6,280.6 391.4,287.2" fill="#7a7a7a"/>
<text x="323.6" y="57" font-size="15.5" font-style="italic" stroke="#000" stroke-width="0.2" textLength="186" lengthAdjust="spacingAndGlyphs">Ag in polymer electrolytes,</text>
<text x="323.6" y="77.4" font-size="15.5" font-style="italic" stroke="#000" stroke-width="0.2" textLength="56" lengthAdjust="spacingAndGlyphs">at 0.8 V</text>
<rect x="398" y="145.5" width="156" height="158.0" fill="#fff" stroke="none"/>
<text x="421.6" y="262.6" font-size="16" font-style="italic" fill="#e01414" stroke="#e01414" stroke-width="0.2" textLength="69" lengthAdjust="spacingAndGlyphs">Ag in pure</text>
<text x="497.4" y="262.6" font-size="16" font-style="italic" fill="#e01414" stroke="#e01414" stroke-width="0.2" textLength="44.8" lengthAdjust="spacingAndGlyphs">water,</text>
<text x="421.6" y="282.5" font-size="16" font-style="italic" fill="#e01414" stroke="#e01414" stroke-width="0.2" textLength="52.5" lengthAdjust="spacingAndGlyphs">at 0.4 V</text>
<g clip-path="url(#ci)">
<polyline points="398,267.5 423.6,303.3" fill="none" stroke="#e01818" stroke-width="1"/>
<polyline points="398,301.2 409,301.3 419,302.2 424,303.2" fill="none" stroke="#e01818" stroke-width="1"/>
<rect x="407.79999999999995" y="280.79999999999995" width="3.2" height="3.2" fill="#e01818"/>
<rect x="417.4" y="300.29999999999995" width="3.2" height="3.2" fill="#e01818"/>
<rect x="438.3" y="299.6" width="3.4" height="3.4" fill="#e01818"/>
<rect x="439.8" y="298.90000000000003" width="3.4" height="3.4" fill="#e01818"/>
<rect x="441.3" y="299.3" width="3.4" height="3.4" fill="#e01818"/>
<rect x="442.3" y="299.90000000000003" width="3.4" height="3.4" fill="#e01818"/>
<rect x="439.3" y="300.3" width="3.4" height="3.4" fill="#e01818"/>
<rect x="441.8" y="298.7" width="3.4" height="3.4" fill="#e01818"/>
<rect x="438.1" y="298.6" width="3.4" height="3.4" fill="#e01818"/>
<polyline fill="none" stroke="#e01818" stroke-width="0.9" points="466.5,302.7 469.4,302.7 472.4,302.7 475.4,302.7 478.3,302.7 481.2,302.7 484.2,302.7 487.1,302.7 490.1,302.7 493.1,302.7 508.0,301.6 522.2,300.6 528.7,299.1 534.0,296.4 536.1,297.4 541.8,294.7"/>
<circle cx="466.5" cy="302.7" r="1.8" fill="#d81010"/>
<circle cx="469.4" cy="302.7" r="1.8" fill="#d81010"/>
<circle cx="472.4" cy="302.7" r="1.8" fill="#d81010"/>
<circle cx="475.4" cy="302.7" r="1.8" fill="#d81010"/>
<circle cx="478.3" cy="302.7" r="1.8" fill="#d81010"/>
<circle cx="481.2" cy="302.7" r="1.8" fill="#d81010"/>
<circle cx="484.2" cy="302.7" r="1.8" fill="#d81010"/>
<circle cx="487.1" cy="302.7" r="1.8" fill="#d81010"/>
<circle cx="490.1" cy="302.7" r="1.8" fill="#d81010"/>
<circle cx="493.1" cy="302.7" r="1.8" fill="#d81010"/>
<circle cx="508.0" cy="301.6" r="1.8" fill="#d81010"/>
<circle cx="522.2" cy="300.6" r="1.8" fill="#d81010"/>
<circle cx="528.7" cy="299.1" r="1.8" fill="#d81010"/>
<circle cx="534.0" cy="296.4" r="1.8" fill="#d81010"/>
<circle cx="536.1" cy="297.4" r="1.8" fill="#d81010"/>
<circle cx="541.8" cy="294.7" r="1.8" fill="#d81010"/>
<polyline fill="none" stroke="#f0a0a0" stroke-width="0.9" points="522.2,300.6 534.9,292.8 543.3,287.9"/>
<circle cx="534.9" cy="292.8" r="1.7" fill="#f0a0a8"/>
<circle cx="543.3" cy="287.9" r="1.7" fill="#f0a0a8"/>
<polyline fill="none" stroke="#000" stroke-width="1" points="534.0,146.8 523.9,166.8 515.0,184.3 507.3,199.5 500.5,212.8 494.6,224.4 489.5,234.5 485.0,243.3 481.1,251.0 477.6,257.7 474.5,263.5 471.8,268.6 469.3,273.1 467.1,276.9 465.2,280.3 463.4,283.2 461.7,285.8 460.2,288.0 458.8,290.0 457.6,291.7 456.5,293.2 455.4,294.5 454.5,295.6 453.7,296.6 452.9,297.5 452.2,298.2 451.6,298.9 451.1,299.4 450.6,299.9 450.2,300.4 449.8,300.7 449.4,301.1 449.1,301.3 448.9,301.6 448.6,301.8 448.4,302.0 448.3,302.2 448.1,302.3 448.0,302.4 447.8,302.6 447.7,302.6 447.6,302.7 447.6,302.8 447.5,302.9 447.4,302.9 447.4,303.0 447.3,303.0 447.3,303.0 447.2,303.1 447.2,303.1 447.2,303.1 447.2,303.2 447.1,303.2 447.1,303.2 447.1,303.2 447.1,303.2 447.1,303.2 447.1,303.2 447.1,303.2 447.1,303.3"/>
<circle cx="534.0" cy="146.8" r="1.7" fill="#000"/>
<circle cx="523.9" cy="166.8" r="1.7" fill="#000"/>
<circle cx="515.0" cy="184.3" r="1.7" fill="#000"/>
<circle cx="507.3" cy="199.5" r="1.7" fill="#000"/>
<circle cx="500.5" cy="212.8" r="1.7" fill="#000"/>
<circle cx="494.6" cy="224.4" r="1.7" fill="#000"/>
<circle cx="489.5" cy="234.5" r="1.7" fill="#000"/>
<rect x="483.2" y="241.5" width="3.6" height="3.6" fill="#9c9c9c"/>
<rect x="479.3" y="249.2" width="3.6" height="3.6" fill="#9c9c9c"/>
<rect x="475.8" y="255.9" width="3.6" height="3.6" fill="#9c9c9c"/>
<rect x="472.7" y="261.7" width="3.6" height="3.6" fill="#9c9c9c"/>
<rect x="470.0" y="266.8" width="3.6" height="3.6" fill="#9c9c9c"/>
<rect x="467.5" y="271.3" width="3.6" height="3.6" fill="#9c9c9c"/>
<rect x="465.3" y="275.1" width="3.6" height="3.6" fill="#9c9c9c"/>
<rect x="463.4" y="278.5" width="3.6" height="3.6" fill="#9c9c9c"/>
<rect x="461.6" y="281.4" width="3.6" height="3.6" fill="#9c9c9c"/>
<rect x="459.9" y="284.0" width="3.6" height="3.6" fill="#9c9c9c"/>
<rect x="458.4" y="286.2" width="3.6" height="3.6" fill="#9c9c9c"/>
<rect x="457.0" y="288.2" width="3.6" height="3.6" fill="#9c9c9c"/>
<rect x="455.8" y="289.9" width="3.6" height="3.6" fill="#9c9c9c"/>
<rect x="454.7" y="291.4" width="3.6" height="3.6" fill="#9c9c9c"/>
<polyline fill="none" stroke="#000" stroke-width="4.6" stroke-linecap="round" points="455.4,294.5 454.5,295.6 453.7,296.6 452.9,297.5 452.2,298.2 451.6,298.9 451.1,299.4 450.6,299.9 450.2,300.4 449.8,300.7 449.4,301.1 449.1,301.3 448.9,301.6 448.6,301.8 448.4,302.0 448.3,302.2 448.1,302.3 448.0,302.4 447.8,302.6 447.7,302.6 447.6,302.7 447.6,302.8 447.5,302.9 447.4,302.9 447.4,303.0 447.3,303.0 447.3,303.0 447.2,303.1 447.2,303.1 447.2,303.1 447.2,303.2 447.1,303.2 447.1,303.2 447.1,303.2 447.1,303.2 447.1,303.2 447.1,303.2 447.1,303.2 447.1,303.3"/>
</g>
<path d="M398 145.5H554.4V303.5" fill="none" stroke="#2a2a2a" stroke-width="1"/>
<path d="M398.3 145.0V303.7H554.9" fill="none" stroke="#5c5c5c" stroke-width="1.5"/>
<path d="M398 303.5h-2.5M398.0 303.5v2.5" stroke="#333" stroke-width="1" fill="none"/>
<text class="itk" x="396" y="307.8" text-anchor="end">0</text>
<text class="itk" x="398.5" y="316.2" text-anchor="middle">0</text>
<path d="M398 277.2h-1.5M424.0 303.5v1.5" stroke="#333" stroke-width="1" fill="none"/>
<path d="M398 250.8h-2.5M450.0 303.5v2.5" stroke="#333" stroke-width="1" fill="none"/>
<text class="itk" x="396" y="255.1" text-anchor="end">5000</text>
<text class="itk" x="450.5" y="316.2" text-anchor="middle">5000</text>
<path d="M398 224.5h-1.5M476.0 303.5v1.5" stroke="#333" stroke-width="1" fill="none"/>
<path d="M398 198.2h-2.5M502.0 303.5v2.5" stroke="#333" stroke-width="1" fill="none"/>
<text class="itk" x="396" y="202.5" text-anchor="end">10000</text>
<text class="itk" x="502.5" y="316.2" text-anchor="middle">10000</text>
<path d="M398 171.8h-1.5M528.0 303.5v1.5" stroke="#333" stroke-width="1" fill="none"/>
<path d="M398 145.5h-2.5M554.0 303.5v2.5" stroke="#333" stroke-width="1" fill="none"/>
<text class="itk" x="396" y="149.8" text-anchor="end">15000</text>
<text class="itk" x="554.5" y="316.2" text-anchor="middle">15000</text>
<text class="cap" x="10.9" y="397.6" font-weight="bold" textLength="61.7" lengthAdjust="spacingAndGlyphs">Figure 1:</text>
<text class="cap" x="77.8" y="397.6" textLength="107.0" lengthAdjust="spacingAndGlyphs">(a) Ag dendrite</text>
<text class="cap" x="188.7" y="397.6" textLength="110.3" lengthAdjust="spacingAndGlyphs">formed through</text>
<text class="cap" x="303.0" y="397.6" textLength="93.1" lengthAdjust="spacingAndGlyphs">ion migration</text>
<text class="cap" x="400.8" y="397.6" textLength="66.0" lengthAdjust="spacingAndGlyphs">when the</text>
<text class="cap" x="471.6" y="397.6" textLength="99.8" lengthAdjust="spacingAndGlyphs">electrodes are</text>
<text class="cap" x="10.9" y="418.2" textLength="110.9" lengthAdjust="spacingAndGlyphs">polarized &gt;0.4 V</text>
<text class="cap" x="124.9" y="418.2" textLength="33.0" lengthAdjust="spacingAndGlyphs">in DI</text>
<text class="cap" x="161.8" y="418.2" textLength="42.8" lengthAdjust="spacingAndGlyphs">water,</text>
<text class="cap" x="207.9" y="418.2" textLength="98.9" lengthAdjust="spacingAndGlyphs">(b) successful</text>
<text class="cap" x="310.4" y="418.2" textLength="63.3" lengthAdjust="spacingAndGlyphs">inhibition</text>
<text class="cap" x="379.0" y="418.2" textLength="13.3" lengthAdjust="spacingAndGlyphs">of</text>
<text class="cap" x="398.0" y="418.2" textLength="58.0" lengthAdjust="spacingAndGlyphs">dendrite</text>
<text class="cap" x="461.9" y="418.2" textLength="66.9" lengthAdjust="spacingAndGlyphs">formation</text>
<text class="cap" x="534.3" y="418.2" textLength="16.9" lengthAdjust="spacingAndGlyphs">by</text>
<text class="cap" x="555.2" y="418.2" textLength="38.4" lengthAdjust="spacingAndGlyphs">using</text>
<text class="cap" x="10.9" y="438.8" textLength="140.3" lengthAdjust="spacingAndGlyphs">polymer electrolytes</text>
<text class="cap" x="156.1" y="438.8" textLength="108.8" lengthAdjust="spacingAndGlyphs">(shown on cells</text>
<text class="cap" x="270.5" y="438.8" textLength="64.0" lengthAdjust="spacingAndGlyphs">polarized</text>
<text class="cap" x="339.7" y="438.8" textLength="13.2" lengthAdjust="spacingAndGlyphs">to</text>
<text class="cap" x="356.4" y="438.8" textLength="22.0" lengthAdjust="spacingAndGlyphs">0.8</text>
<text class="cap" x="381.6" y="438.8" textLength="20.2" lengthAdjust="spacingAndGlyphs">V),</text>
<text class="cap" x="405.6" y="438.8" textLength="26.3" lengthAdjust="spacingAndGlyphs">and</text>
<text class="cap" x="435.7" y="438.8" textLength="18.4" lengthAdjust="spacingAndGlyphs">(c)</text>
<text class="cap" x="457.8" y="438.8" textLength="81.5" lengthAdjust="spacingAndGlyphs">comparison</text>
<text class="cap" x="543.6" y="438.8" textLength="12.3" lengthAdjust="spacingAndGlyphs">in</text>
<text class="cap" x="561.5" y="438.8" textLength="52.6" lengthAdjust="spacingAndGlyphs">Nyquist</text>
<text class="cap" x="10.9" y="459.5" textLength="97.7" lengthAdjust="spacingAndGlyphs">plots for silver</text>
<text class="cap" x="112.5" y="459.5" textLength="48.4" lengthAdjust="spacingAndGlyphs">cells in</text>
<text class="cap" x="165.0" y="459.5" textLength="56.3" lengthAdjust="spacingAndGlyphs">polymer</text>
<text class="cap" x="226.4" y="459.5" textLength="80.0" lengthAdjust="spacingAndGlyphs">electrolytes</text>
<text class="cap" x="312.2" y="459.5" textLength="42.2" lengthAdjust="spacingAndGlyphs">(black</text>
<text class="cap" x="358.8" y="459.5" textLength="44.0" lengthAdjust="spacingAndGlyphs">curve)</text>
<text class="cap" x="405.9" y="459.5" textLength="26.4" lengthAdjust="spacingAndGlyphs">and</text>
<text class="cap" x="435.8" y="459.5" textLength="31.7" lengthAdjust="spacingAndGlyphs">pure</text>
<text class="cap" x="471.8" y="459.5" textLength="73.1" lengthAdjust="spacingAndGlyphs">de-ionized</text>
<text class="cap" x="550.5" y="459.5" textLength="38.7" lengthAdjust="spacingAndGlyphs">water</text>
<text class="cap" x="10.9" y="480.1" textLength="75.4" lengthAdjust="spacingAndGlyphs">(red curve)</text>
</svg></body></html>
